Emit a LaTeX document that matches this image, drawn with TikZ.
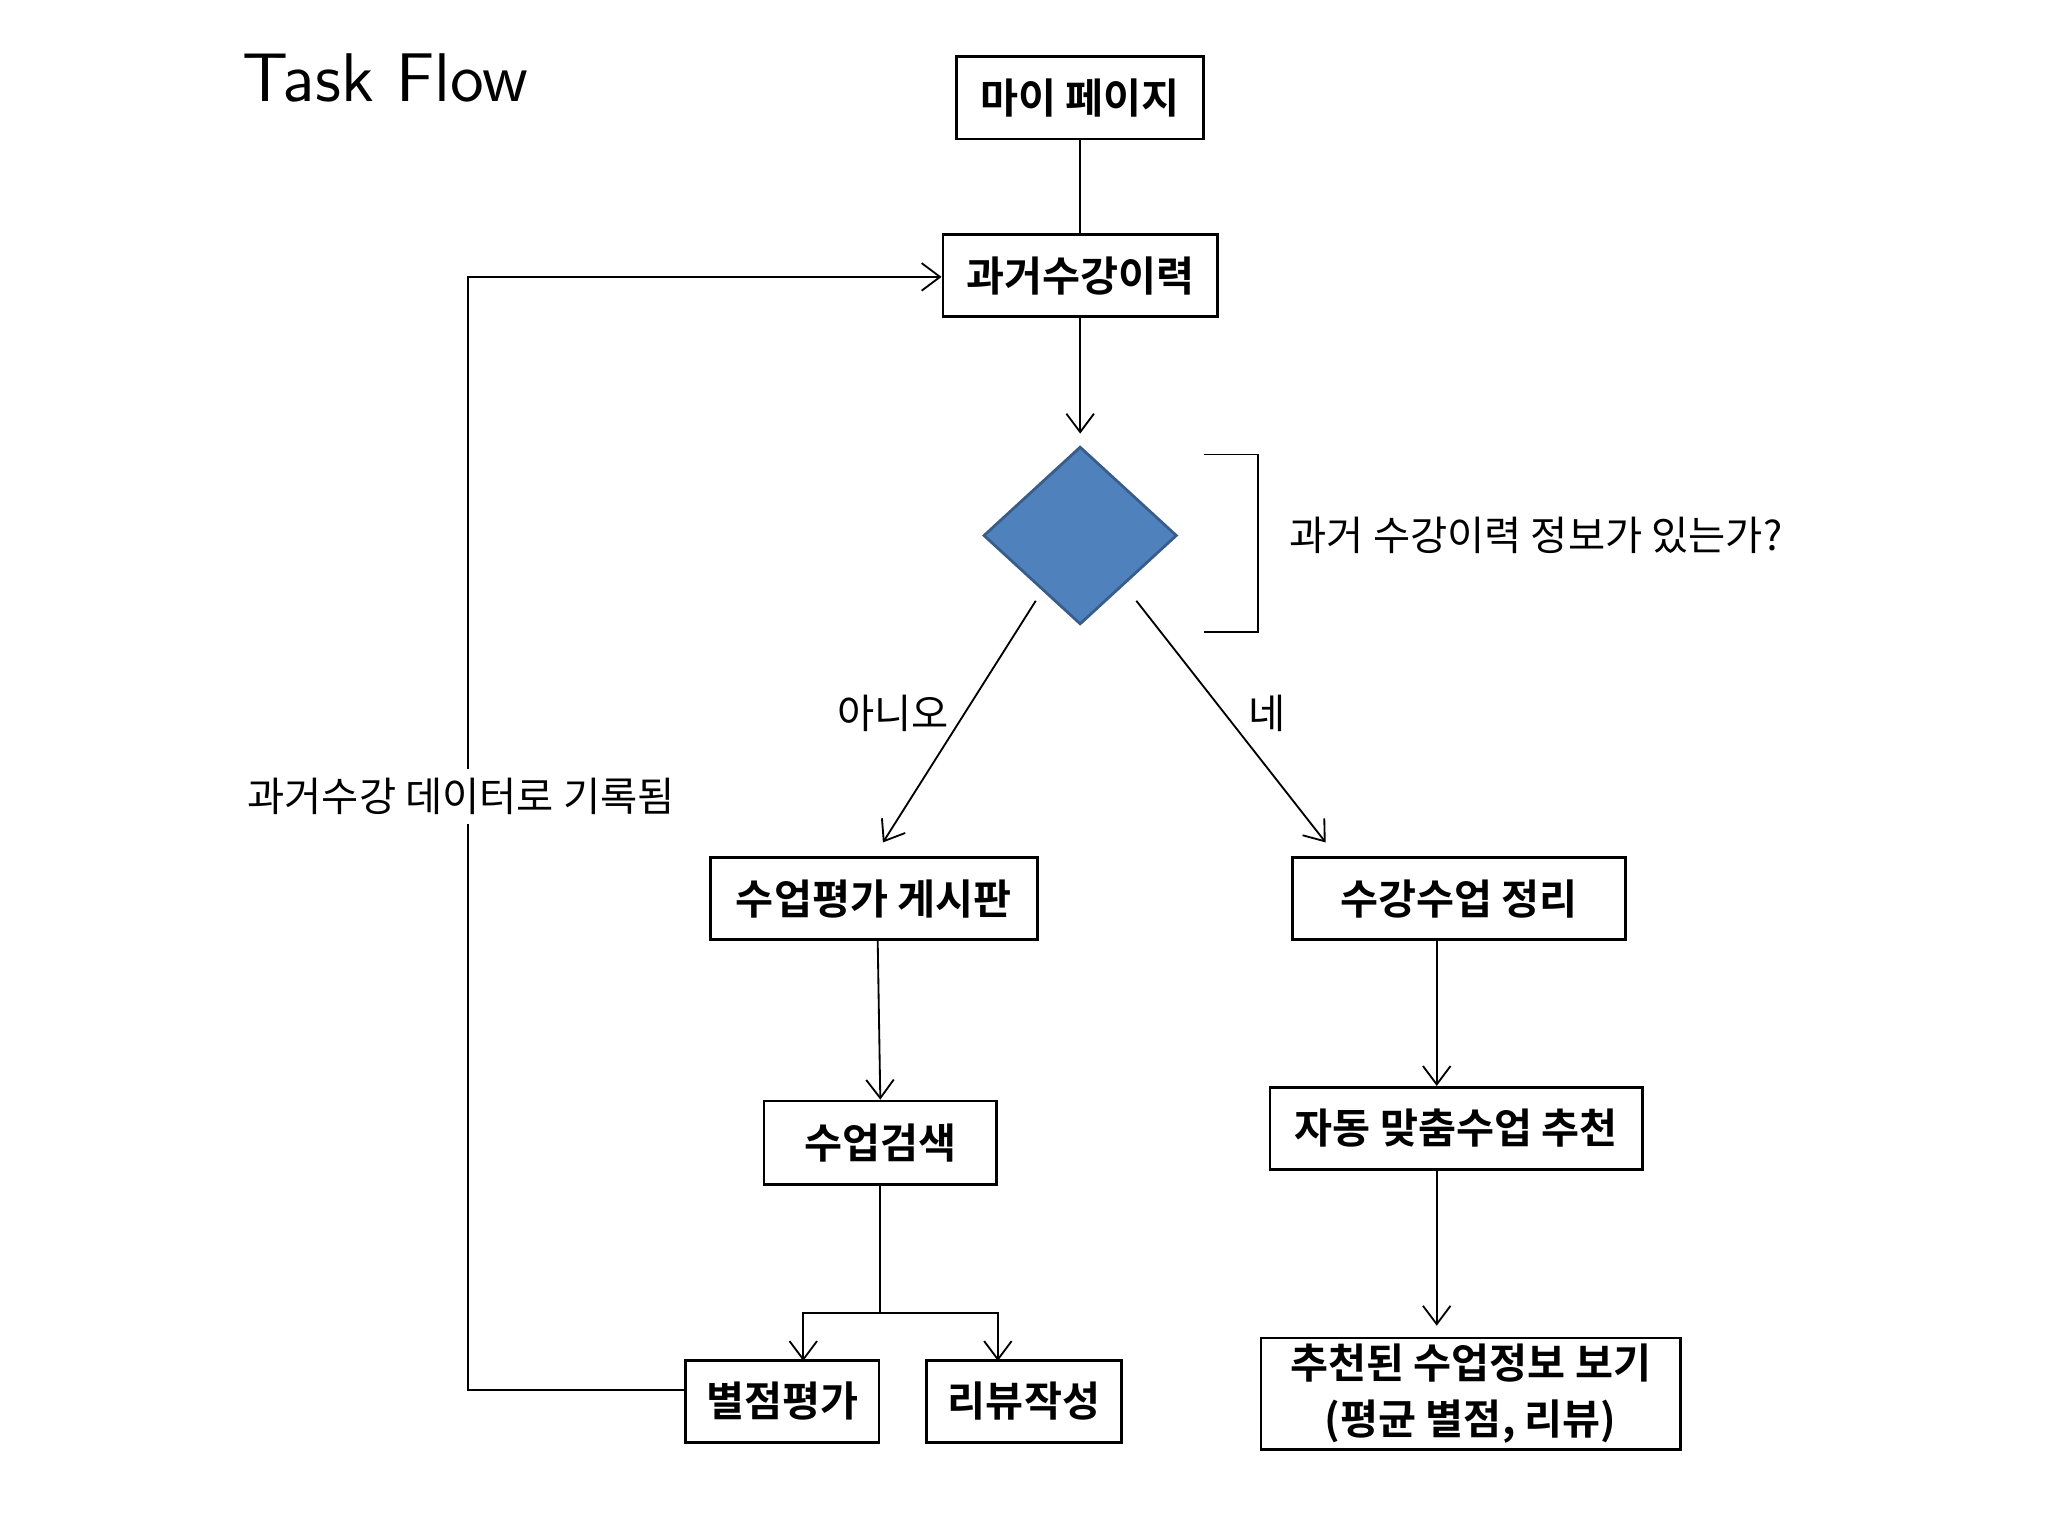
\documentclass[tikz,border=0pt]{standalone}
\usepackage{fontspec}
\newfontfamily\kr{Noto Sans CJK KR}
\newfontfamily\krb{Noto Sans CJK KR Bold}
\usetikzlibrary{arrows.meta,shapes.geometric}
\definecolor{dblue}{RGB}{79,129,189}
\definecolor{dborder}{RGB}{56,93,138}
\begin{document}
\begin{tikzpicture}[x=0.01cm,y=-0.01cm,
  box/.style={draw,line width=0.6pt,font=\krb\fontsize{9}{11}\selectfont,inner sep=0pt,align=center},
  lab/.style={font=\kr\fontsize{8.8}{10}\selectfont},
  conn/.style={line width=0.4pt,-{Straight Barb[length=4pt,width=6pt]}},
  ln/.style={line width=0.4pt}]
\useasboundingbox (0,0) rectangle (1568,1176);
\node[font=\sffamily\fontsize{15}{18}\selectfont] (title) at (295,60) {Task Flow};
\node[box,minimum width=1.89cm,minimum height=0.63cm] (my) at (827,75) {마이 페이지};
\node[box,minimum width=2.10cm,minimum height=0.63cm] (past) at (827,211) {과거수강이력};
\node[diamond,fill=dblue,draw=dborder,line width=0.6pt,minimum width=1.48cm,minimum height=1.36cm,inner sep=0pt] (dec) at (827,410) {};
\coordinate (dtop) at (827,332);
\node[lab,anchor=west] (q) at (975,410) {과거 수강이력 정보가 있는가?};
\draw[ln] (922,348) -- (963,348) -- (963,484) -- (922,484);
\node[box,minimum width=2.50cm,minimum height=0.63cm] (board) at (669,688) {수업평가 게시판};
\node[box,minimum width=2.55cm,minimum height=0.63cm] (org) at (1117,688) {수강수업 정리};
\node[box,minimum width=1.78cm,minimum height=0.64cm] (search) at (674,875) {수업검색};
\node[box,minimum width=1.48cm,minimum height=0.63cm] (star) at (599,1073) {별점평가};
\node[box,minimum width=1.49cm,minimum height=0.63cm] (rev) at (784,1073) {리뷰작성};
\node[box,minimum width=2.85cm,minimum height=0.63cm] (auto) at (1115,864) {자동 맞춤수업 추천};
\node[box,minimum width=3.21cm,minimum height=0.85cm,font=\krb\fontsize{9}{12}\selectfont] (rec) at (1126,1067) {추천된 수업정보 보기\\(평균 별점, 리뷰)};
\draw[ln] (my) -- (past);
\draw[conn] (past) -- (dtop);
\coordinate (l1) at (793,460); \coordinate (l2) at (676,645);
\coordinate (r1) at (870,460); \coordinate (r2) at (1015,645);
\draw[conn] (l1) -- (l2);
\draw[conn] (r1) -- (r2);
\node[lab] (no) at (684,546) {아니오};
\node[lab] (yes) at (970,546) {네};
\draw[conn] (board.south -| 672,0) -- (search.north);
\coordinate (split) at (674,1005);
\draw[ln] (search) -- (split);
\draw[conn] (split) -| (615,1042);
\draw[conn] (split) -| (764,1042);
\draw[conn] (org.south -| 1100,0) -- (auto.north -| 1100,0);
\draw[conn] (auto.south -| 1100,0) -- (1100,1015);
\draw[conn] (star.west |- 0,1064) -- (358,1064) -- (358,212) -- (past.west |- 0,212);
\node[lab,fill=white,inner sep=2pt] (loop) at (353,610) {과거수강 데이터로 기록됨};
\end{tikzpicture}
\end{document}
